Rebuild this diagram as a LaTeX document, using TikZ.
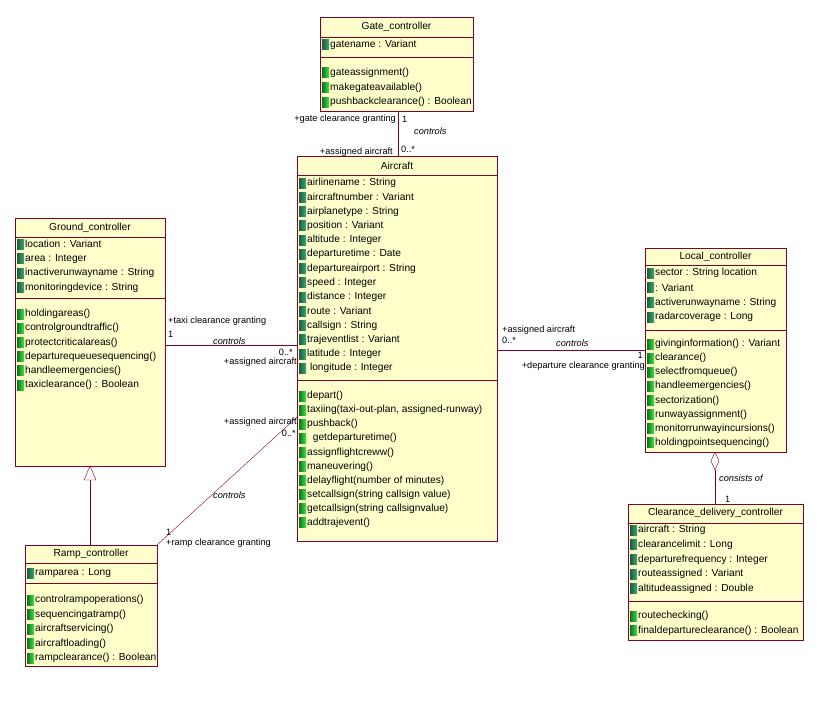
\documentclass[tikz,border=0pt]{standalone}
\usepackage{fontspec}
\setmainfont{Liberation Sans}
\usetikzlibrary{arrows.meta,shapes.geometric}
\definecolor{fillc}{RGB}{255,255,204}
\definecolor{edge}{RGB}{128,0,48}
\definecolor{opA}{RGB}{20,110,40}
\definecolor{opB}{RGB}{60,230,60}
\definecolor{atA}{RGB}{30,90,70}
\definecolor{atB}{RGB}{60,170,110}
\tikzset{
  box/.style={draw=edge,fill=fillc,line width=0.8pt},
  div/.style={draw=edge,line width=0.8pt},
  row/.style={anchor=west,font=\fontsize{10.2}{11}\selectfont,inner sep=0pt},
  ttl/.style={font=\fontsize{10.2}{11}\selectfont,inner sep=0pt},
  lbl/.style={font=\fontsize{9.2}{10}\selectfont,inner sep=0pt},
  ital/.style={lbl,font=\fontsize{9.2}{10}\selectfont\itshape},
  conn/.style={draw=edge,line width=0.8pt},
  thin/.style={draw=edge,line width=0.4pt}
}
\newcommand\rowsx[6]{%
 \foreach \t [count=\i] in {#5}{%
  \pgfmathsetmacro\yy{#3+(\i-1)*#4}%
  \shade[left color=#6A, right color=#6B] (#2,\yy-5) rectangle ++(7,10);
  \node[row] (#1-\i) at (#2+8,\yy) {\t};
 }}
\begin{document}
\begin{tikzpicture}[x=1pt,y=-1pt]
\useasboundingbox (0,0) rectangle (822,709);
% Gate
\path[box] (320,17) rectangle (473,111);
\node[ttl] (gate) at (396.5,27) {Gate\_controller};
\draw[div] (320,37) -- (473,37); \draw[div] (320,57) -- (473,57);
\rowsx{ga}{322}{45}{14}{gatename : Variant}{at}
\rowsx{go}{322}{73}{14.5}{gateassignment(),makegateavailable(),pushbackclearance() : Boolean}{op}
\coordinate (gateB) at (398,111);
% Aircraft
\path[box] (297,156) rectangle (497,541);
\node[ttl] (air) at (397,166) {Aircraft};
\draw[div] (297,175) -- (497,175); \draw[div] (297,380) -- (497,380);
\rowsx{aa}{299}{183}{14.25}{airlinename : String,aircraftnumber : Variant,airplanetype : String,position : Variant,altitude : Integer,departuretime : Date,departureairport : String,speed : Integer,distance : Integer,route : Variant,callsign : String,trajeventlist : Variant,latitude : Integer,\ longitude : Integer}{at}
\rowsx{ao}{299}{396}{14.1}{depart(),{taxiing(taxi-out-plan, assigned-runway)},pushback(),\ \ getdeparturetime(),assignflightcreww(),maneuvering(),delayflight(number of minutes),setcallsign(string callsign value),getcallsign(string callsignvalue),addtrajevent()}{op}
\coordinate (airT) at (398,156);
\coordinate (airL1) at (297,345);
\coordinate (airL2) at (297,417);
\coordinate (airR) at (497,350);
% Ground
\path[box] (15,218) rectangle (165,466);
\node[ttl] (ground) at (90,228) {Ground\_controller};
\draw[div] (15,237) -- (165,237); \draw[div] (15,298) -- (165,298);
\rowsx{gra}{17}{244}{14.6}{location : Variant,area : Integer,inactiverunwayname : String,monitoringdevice : String}{at}
\rowsx{gro}{17}{314}{14.2}{holdingareas(),controlgroundtraffic(),protectcriticalareas(),departurequeuesequencing(),handleemergencies(),taxiclearance() : Boolean}{op}
\coordinate (grR) at (165,345);
\coordinate (grB) at (90,466);
% Ramp
\path[box] (25,545) rectangle (157,666);
\node[ttl] (ramp) at (91,554) {Ramp\_controller};
\draw[div] (25,563) -- (157,563); \draw[div] (25,583) -- (157,583);
\rowsx{ra}{27}{573}{14}{ramparea : Long}{at}
\rowsx{ro}{27}{600}{14.5}{controlrampoperations(),sequencingatramp(),aircraftservicing(),aircraftloading(),rampclearance() : Boolean}{op}
\coordinate (rampT) at (90,545);
\coordinate (rampR) at (157,545);
% Local
\path[box] (645,248) rectangle (786,452);
\node[ttl] (local) at (715.5,257) {Local\_controller};
\draw[div] (645,265) -- (786,265); \draw[div] (645,330) -- (786,330);
\rowsx{la}{647}{273}{14.7}{sector : String location,: Variant,activerunwayname : String,radarcoverage : Long}{at}
\rowsx{lo}{647}{344}{14.1}{givinginformation() : Variant,clearance(),selectfromqueue(),handleemergencies(),sectorization(),runwayassignment(),monitorrunwayincursions(),holdingpointsequencing()}{op}
\coordinate (locL) at (645,350);
\coordinate (locB) at (715,452);
% Clearance
\path[box] (628,504) rectangle (803,640);
\node[ttl] (clr) at (715.5,513) {Clearance\_delivery\_controller};
\draw[div] (628,523) -- (803,523); \draw[div] (628,601) -- (803,601);
\rowsx{ca}{630}{530}{14.7}{aircraft : String,clearancelimit : Long,departurefrequency : Integer,routeassigned : Variant,altitudeassigned : Double}{at}
\rowsx{co}{630}{616}{14.5}{routechecking(),finaldepartureclearance() : Boolean}{op}
\coordinate (clrT) at (715,504);
% connectors
\draw[conn] (gateB) -- (airT);
\node[lbl,anchor=east] (g1) at (396,119) {+gate clearance granting};
\node[lbl,anchor=west] (g2) at (402,119) {1};
\node[ital,anchor=west] (g3) at (414,131) {controls};
\node[lbl,anchor=east] (g4) at (393,152) {+assigned aircraft};
\node[lbl,anchor=west] (g5) at (401,149) {0..*};
\draw[conn] (grR) -- (airL1);
\node[lbl,anchor=west] (t1) at (168,321) {+taxi clearance granting};
\node[lbl,anchor=west] (t2) at (168,334) {1};
\node[ital,anchor=west] (t3) at (213,341) {controls};
\node[lbl,anchor=east] (t4) at (293,352) {0..*};
\node[lbl,anchor=east] (t5) at (297,362) {+assigned aircraft};
\draw[thin] (rampR) -- (airL2);
\node[lbl,anchor=west] (r1) at (166,532) {1};
\node[lbl,anchor=west] (r2) at (166,543) {+ramp clearance granting};
\node[ital,anchor=west] (r3) at (213,495) {controls};
\node[lbl,anchor=east] (r4) at (297,422) {+assigned aircraft};
\node[lbl,anchor=east] (r5) at (296,433) {0..*};
\draw[conn] (airR) -- (locL);
\node[lbl,anchor=west] (l1) at (502,330) {+assigned aircraft};
\node[lbl,anchor=west] (l2) at (502,340) {0..*};
\node[ital,anchor=west] (l3) at (556,343) {controls};
\node[lbl,anchor=east] (l4) at (643,355) {1};
\node[lbl,anchor=east] (l5) at (645,366) {+departure clearance granting};
\draw[conn] (clrT) -- (715,470);
\draw[thin,fill=white] (locB) -- (711,461) -- (715,470) -- (719,461) -- cycle;
\node[ital,anchor=west] (c1) at (719,478) {consists of};
\node[lbl,anchor=west] (c2) at (725,499) {1};
\draw[conn] (rampT) -- (90,480);
\draw[thin,fill=white] (grB) -- (84,480) -- (96,480) -- cycle;
\end{tikzpicture}
\end{document}
